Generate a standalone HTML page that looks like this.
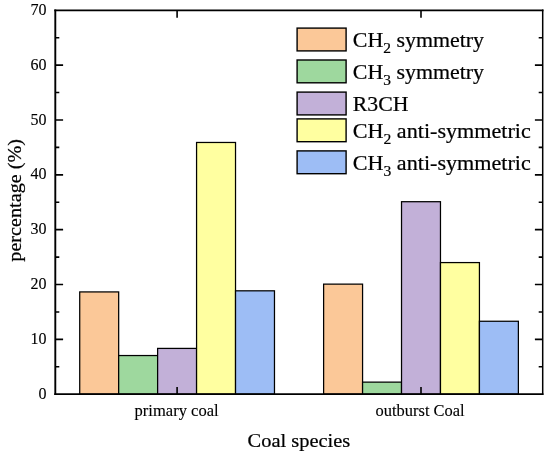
<!DOCTYPE html>
<html><head><meta charset="utf-8"><title>Coal species</title>
<style>html,body{margin:0;padding:0;background:#fff}svg{display:block}text{font-family:"Liberation Serif","Times New Roman",serif;fill:#000;stroke:#000;stroke-width:.22px}.s{stroke-width:.12px}</style></head><body>
<svg width="550" height="455" viewBox="0 0 550 455">
<rect width="550" height="455" fill="#fff"/>
<rect x="79.72" y="291.92" width="38.95" height="102.28" fill="#FBC898" stroke="#000" stroke-width="1.25"/>
<rect x="118.67" y="355.54" width="38.95" height="38.66" fill="#9ED89E" stroke="#000" stroke-width="1.25"/>
<rect x="157.62" y="348.41" width="38.95" height="45.79" fill="#C2B0D8" stroke="#000" stroke-width="1.25"/>
<rect x="196.57" y="142.47" width="38.95" height="251.73" fill="#FFFFA0" stroke="#000" stroke-width="1.25"/>
<rect x="235.53" y="290.82" width="38.95" height="103.38" fill="#9DBDF5" stroke="#000" stroke-width="1.25"/>
<rect x="323.62" y="284.13" width="38.95" height="110.07" fill="#FBC898" stroke="#000" stroke-width="1.25"/>
<rect x="362.57" y="382.13" width="38.95" height="12.07" fill="#9ED89E" stroke="#000" stroke-width="1.25"/>
<rect x="401.52" y="201.70" width="38.95" height="192.50" fill="#C2B0D8" stroke="#000" stroke-width="1.25"/>
<rect x="440.48" y="262.58" width="38.95" height="131.62" fill="#FFFFA0" stroke="#000" stroke-width="1.25"/>
<rect x="479.43" y="321.26" width="38.95" height="72.94" fill="#9DBDF5" stroke="#000" stroke-width="1.25"/>
<path d="M55.30 9.45V395.10" stroke="#000" stroke-width="1.9" fill="none"/>
<path d="M54.30 394.20H543.45" stroke="#000" stroke-width="1.8" fill="none"/>
<path d="M54.30 10.30H543.45" stroke="#000" stroke-width="1.7" fill="none"/>
<path d="M542.70 9.45V395.10" stroke="#000" stroke-width="1.5" fill="none"/>
<path d="M55.30 366.78h4.0M542.70 366.78h-4.0M55.30 339.36h7.8M542.70 339.36h-7.8M55.30 311.94h4.0M542.70 311.94h-4.0M55.30 284.51h7.8M542.70 284.51h-7.8M55.30 257.09h4.0M542.70 257.09h-4.0M55.30 229.67h7.8M542.70 229.67h-7.8M55.30 202.25h4.0M542.70 202.25h-4.0M55.30 174.83h7.8M542.70 174.83h-7.8M55.30 147.41h4.0M542.70 147.41h-4.0M55.30 119.99h7.8M542.70 119.99h-7.8M55.30 92.56h4.0M542.70 92.56h-4.0M55.30 65.14h7.8M542.70 65.14h-7.8M55.30 37.72h4.0M542.70 37.72h-4.0M177.10 394.20v-7.3M177.10 10.30v7.4M421.00 394.20v-7.3M421.00 10.30v7.4" stroke="#000" stroke-width="1.6" fill="none"/>
<text class="s" x="46.5" y="398.80" font-size="16" text-anchor="end">0</text>
<text class="s" x="46.5" y="343.96" font-size="16" text-anchor="end">10</text>
<text class="s" x="46.5" y="289.11" font-size="16" text-anchor="end">20</text>
<text class="s" x="46.5" y="234.27" font-size="16" text-anchor="end">30</text>
<text class="s" x="46.5" y="179.43" font-size="16" text-anchor="end">40</text>
<text class="s" x="46.5" y="124.59" font-size="16" text-anchor="end">50</text>
<text class="s" x="46.5" y="69.74" font-size="16" text-anchor="end">60</text>
<text class="s" x="46.5" y="14.90" font-size="16" text-anchor="end">70</text>
<text class="s" x="134.6" y="415.7" font-size="15.7" textLength="84" lengthAdjust="spacingAndGlyphs">primary coal</text>
<text class="s" x="375.6" y="415.7" font-size="15.7" textLength="89" lengthAdjust="spacingAndGlyphs">outburst Coal</text>
<text x="247.6" y="446.5" font-size="19.6" textLength="102.6" lengthAdjust="spacingAndGlyphs">Coal species</text>
<text transform="translate(21.1 261.7) rotate(-90)" font-size="19.2" textLength="122.8" lengthAdjust="spacingAndGlyphs">percentage (%)</text>
<rect x="297.1" y="28.10" width="49" height="22.8" fill="#FBC898" stroke="#000" stroke-width="1.4"/>
<text x="352.8" y="46.80" font-size="21" textLength="131.2" lengthAdjust="spacingAndGlyphs">CH<tspan font-size="14.8" dy="5.9">2</tspan><tspan dy="-5.9"> symmetry</tspan></text>
<rect x="297.1" y="60.00" width="49" height="22.8" fill="#9ED89E" stroke="#000" stroke-width="1.4"/>
<text x="352.8" y="78.70" font-size="21" textLength="131.2" lengthAdjust="spacingAndGlyphs">CH<tspan font-size="14.8" dy="5.9">3</tspan><tspan dy="-5.9"> symmetry</tspan></text>
<rect x="297.1" y="92.10" width="49" height="22.8" fill="#C2B0D8" stroke="#000" stroke-width="1.4"/>
<text x="352.8" y="110.80" font-size="21" textLength="55.6" lengthAdjust="spacingAndGlyphs">R3CH</text>
<rect x="297.1" y="118.90" width="49" height="22.8" fill="#FFFFA0" stroke="#000" stroke-width="1.4"/>
<text x="352.8" y="137.60" font-size="21" textLength="178.0" lengthAdjust="spacingAndGlyphs">CH<tspan font-size="14.8" dy="5.9">2</tspan><tspan dy="-5.9"> anti-symmetric</tspan></text>
<rect x="297.1" y="150.90" width="49" height="22.8" fill="#9DBDF5" stroke="#000" stroke-width="1.4"/>
<text x="352.8" y="169.60" font-size="21" textLength="178.0" lengthAdjust="spacingAndGlyphs">CH<tspan font-size="14.8" dy="5.9">3</tspan><tspan dy="-5.9"> anti-symmetric</tspan></text>
</svg></body></html>
